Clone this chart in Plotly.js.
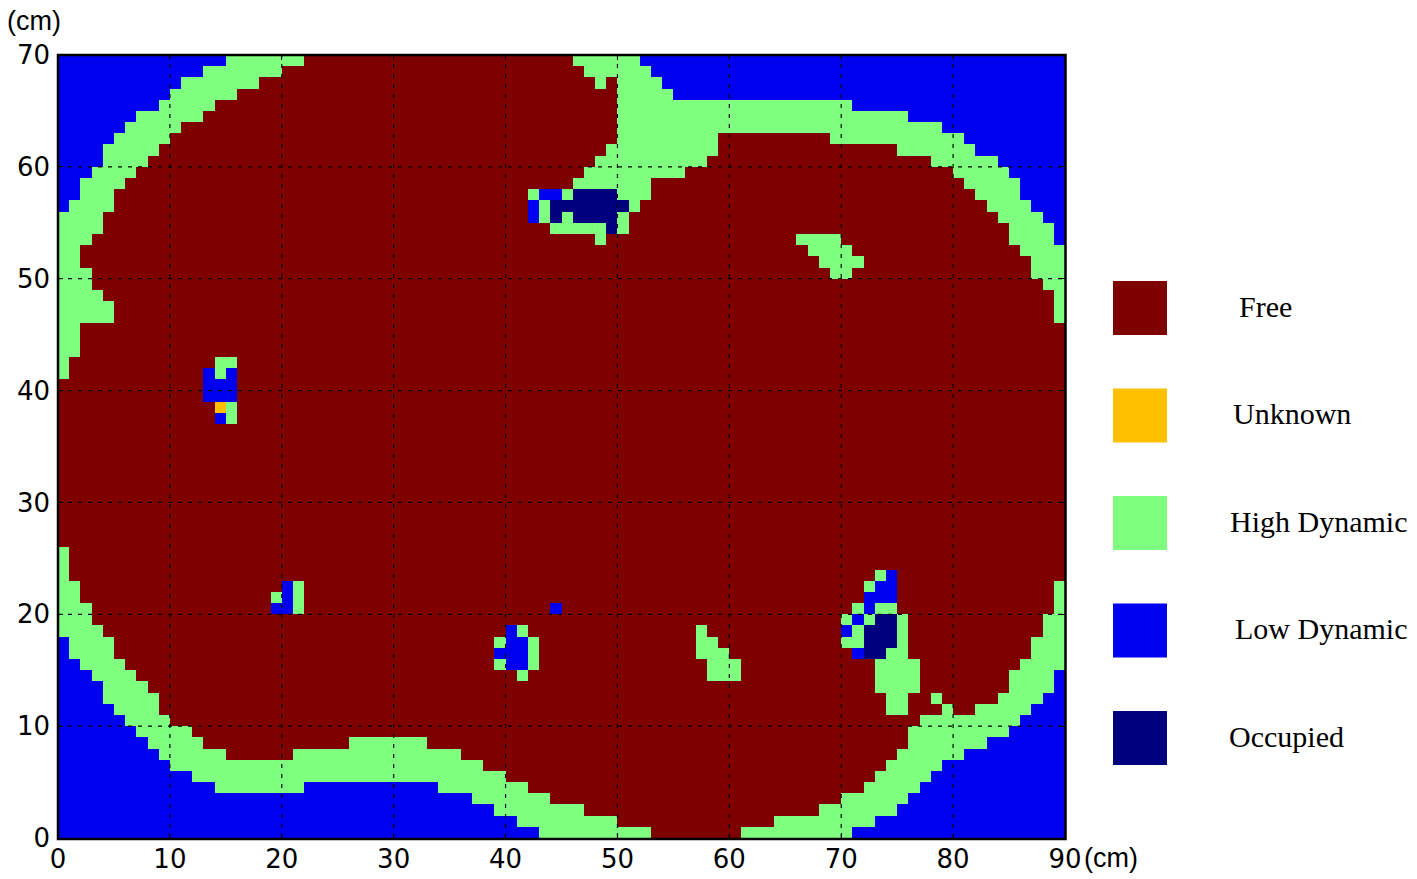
<!DOCTYPE html>
<html>
<head>
<meta charset="utf-8">
<script src="https://cdn.plot.ly/plotly-3.0.1.min.js"></script>
<style>html,body{margin:0;padding:0;background:#fff}#chart{width:1417px;height:879px}</style>
</head>
<body>
<div id="chart"></div>
<script>
// Legend categories in code order
var categories = ['Free', 'Unknown', 'High Dynamic', 'Low Dynamic', 'Occupied'];
var categoryLetters = ['F', 'U', 'H', 'L', 'O'];
var categoryColors = ['#7f0000', '#ffc000', '#7fff7f', '#0000f0', '#00007f'];

// Map cells, one row per line, from y=69 (top) down to y=0.
// Each token: category letter + column where that run ends.
var mapRows = [
'L15 H22 F46 H52 L90',
'L13 H20 F47 H53 L90',
'L11 H18 F48 H49 F50 H54 L90',
'L10 H16 F50 H55 L90',
'L9 H14 F50 H71 L90',
'L7 H13 F50 H76 L90',
'L6 H11 F50 H79 L90',
'L5 H10 F50 H59 F69 H81 L90',
'L4 H9 F49 H59 F75 H82 L90',
'L4 H8 F48 H58 F78 H84 L90',
'L3 H7 F47 H56 F80 H85 L90',
'L2 H6 F46 H53 F81 H86 L90',
'L2 H5 F42 H43 L45 H46 O50 H53 F82 H86 L90',
'L1 H5 F42 L43 H44 O51 H52 F83 H87 L90',
'H4 F42 L43 H44 O45 H46 O50 H51 F84 H88 L90',
'H4 F44 H49 O50 H51 F85 H89 L90',
'H3 F48 H49 F66 H70 F85 H89 L90',
'H2 F67 H71 F86 H90',
'H2 F68 H72 F87 H90',
'H3 F69 H71 F87 H90',
'H3 F88 H90',
'H4 F89 H90',
'H5 F89 H90',
'H5 F89 H90',
'H2 F90',
'H2 F90',
'H2 F90',
'H1 F14 H16 F90',
'H1 F13 L14 H15 L16 F90',
'F13 L16 F90',
'F13 L16 F90',
'F14 U15 H16 F90',
'F14 L15 H16 F90',
'F90','F90','F90','F90','F90','F90','F90','F90','F90','F90','F90',
'H1 F90',
'H1 F90',
'H1 F73 H74 L75 F90',
'H2 F20 L21 H22 F72 H73 L75 F89 H90',
'H2 F19 H20 L21 H22 F72 L75 F89 H90',
'H3 F19 L21 H22 F44 L45 F71 H72 L73 H75 F89 H90',
'H3 F70 H71 L72 H73 O75 H76 F88 H90',
'H4 F40 L41 H42 F57 H58 F70 L71 H72 O75 H76 F88 H90',
'L1 H5 F39 H40 L42 H43 F57 H59 F70 H72 O75 H76 F87 H90',
'L1 H5 F39 L42 H43 F57 H60 F71 L72 O74 H76 F87 H90',
'L2 H6 F39 H40 L42 H43 F58 H61 F73 H77 F86 H90',
'L3 H7 F41 H42 F58 H61 F73 H77 F85 H89 L90',
'L4 H8 F73 H77 F85 H89 L90',
'L4 H9 F74 H76 F78 H79 F84 H88 L90',
'L5 H9 F74 H76 F79 H80 F82 H87 L90',
'L6 H10 F77 H86 L90',
'L7 H12 F76 H85 L90',
'L8 H13 F26 H33 F76 H83 L90',
'L9 H15 F21 H36 F75 H81 L90',
'L10 H38 F74 H79 L90',
'L12 H40 F73 H78 L90',
'L14 H22 L34 H42 F72 H77 L90',
'L37 H44 F70 H76 L90',
'L39 H47 F68 H75 L90',
'L41 H50 F64 H73 L90',
'L43 H53 F61 H71 L90'
];

var xTicks = [0, 10, 20, 30, 40, 50, 60, 70, 80, 90];
var yTicks = [0, 10, 20, 30, 40, 50, 60, 70];
var xGrid = [10, 20, 30, 40, 50, 60, 70, 80];
var yGrid = [10, 20, 30, 40, 50, 60];

// Page geometry (pixels)
var W = 1417, H = 879, L = 58, R = 1065, T = 55, B = 838;
var legendTop = [281, 388.5, 496, 603.5, 711];
var legendTextX = [1236.5, 1230.5, 1227.5, 1232.5, 1227];
var px = function (x) { return (x - L) / (R - L); };
var py = function (y) { return (B - y) / (B - T); };

var z = mapRows.map(function (row) {
  var cells = [], col = 0;
  row.split(' ').forEach(function (tok) {
    var code = categoryLetters.indexOf(tok[0]), end = +tok.slice(1);
    while (col < end) { cells.push(code); col++; }
  });
  return cells;
}).reverse();

var n = categories.length, colorscale = [];
categoryColors.forEach(function (c, i) {
  colorscale.push([i / n, c]); colorscale.push([(i + 1) / n, c]);
});

var gridLine = {color: '#000', width: 1.2, dash: '4px,6px'};
var shapes = [];
xGrid.forEach(function (v) {
  shapes.push({type: 'line', xref: 'x', yref: 'paper', x0: v, x1: v, y0: 0, y1: 1, line: gridLine});
});
yGrid.forEach(function (v) {
  shapes.push({type: 'line', xref: 'paper', yref: 'y', x0: 0, x1: 1, y0: v, y1: v, line: gridLine});
});
var annotations = [];
categories.forEach(function (name, i) {
  shapes.push({type: 'rect', xref: 'paper', yref: 'paper', x0: px(1113), x1: px(1167),
    y0: py(legendTop[i] + 54), y1: py(legendTop[i]), fillcolor: categoryColors[i], line: {width: 0}});
  annotations.push({xref: 'paper', yref: 'paper', x: px(legendTextX[i]), y: py(legendTop[i] + 25),
    xanchor: 'left', yanchor: 'middle', showarrow: false, text: name,
    font: {family: 'Liberation Serif', size: 30, color: '#000'}});
});
// Frame straddling the plot edges, over the outermost cells
shapes.push({type: 'rect', xref: 'paper', yref: 'paper', x0: 0, x1: px(R + 0.5), y0: py(B + 1), y1: 1,
  fillcolor: 'rgba(0,0,0,0)', line: {color: '#000', width: 2.5}});
var unitFont = {family: 'Liberation Sans', size: 27, color: '#000'};
annotations.push({xref: 'paper', yref: 'paper', x: px(1081.5), y: py(858), xanchor: 'left', yanchor: 'middle',
  showarrow: false, text: '(cm)', font: unitFont});
annotations.push({xref: 'paper', yref: 'paper', x: px(5), y: py(21), xanchor: 'left', yanchor: 'middle',
  showarrow: false, text: '(cm)', font: unitFont});

var axisBase = {
  showgrid: false, zeroline: false, showline: false, mirror: 'allticks',
  ticks: 'inside', ticklen: 5, tickwidth: 1, tickcolor: '#000',
  tickfont: {family: 'DejaVu Sans', size: 26, color: '#000'}, tickmode: 'array', layer: 'above traces'
};
var layout = {
  width: W, height: H, paper_bgcolor: '#fff', plot_bgcolor: '#fff',
  margin: {l: L, r: W - R, t: T, b: H - B, pad: 0},
  showlegend: false,
  xaxis: Object.assign({}, axisBase, {range: [0, 90], tickvals: xTicks, ticktext: xTicks.map(String), ticklabelstandoff: 3}),
  yaxis: Object.assign({}, axisBase, {range: [0, 70], tickvals: yTicks, ticktext: yTicks.map(String), ticklabelstandoff: 7}),
  shapes: shapes, annotations: annotations
};
Plotly.newPlot('chart', [{
  type: 'heatmap', z: z, x0: 0.5, dx: 1, y0: 0.5, dy: 1,
  zmin: -0.5, zmax: n - 0.5, colorscale: colorscale, showscale: false, hoverinfo: 'skip'
}], layout, {displayModeBar: false, staticPlot: true});
</script>
</body>
</html>
